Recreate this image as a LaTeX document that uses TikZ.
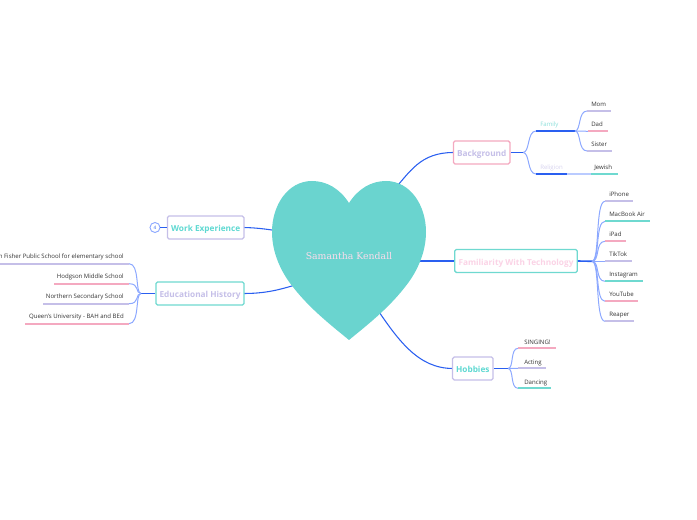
\documentclass[tikz,border=0pt]{standalone}
\usepackage{fontspec}
\setmainfont{Open Sans}
\newfontfamily\serifcentral{DejaVu Serif}
\definecolor{heartc}{HTML}{6AD4CF}
\definecolor{blued}{HTML}{2A5FF0}
\definecolor{bluel}{HTML}{8CA8FF}
\definecolor{pinkc}{HTML}{F4A9C0}
\definecolor{lavc}{HTML}{C5BFE8}
\definecolor{tealc}{HTML}{6FD9D0}
\definecolor{pinkt}{HTML}{FBD3E6}
\definecolor{tealt}{HTML}{5FD9D2}
\definecolor{famc}{HTML}{8ADFD9}
\definecolor{relc}{HTML}{D6D2EE}
\tikzset{
 x=0.75pt,y=-0.75pt,
 topic/.style={draw=#1,line width=0.95pt,rounded corners=1.2pt,fill=white,inner sep=0pt,text height=6.3pt,text depth=0pt,font=\fontsize{6.2}{8}\selectfont\bfseries},
 leaf/.style={inner sep=0pt,anchor=base west,font=\fontsize{4.55}{6}\selectfont,text=black!80},
 leafr/.style={inner sep=0pt,anchor=base east,font=\fontsize{4.55}{6}\selectfont,text=black!80},
 sub/.style={inner sep=0pt,anchor=base west,font=\fontsize{4.55}{6}\selectfont},
 main/.style={draw=blued,line width=0.8pt},
 fan/.style={draw=bluel,line width=0.75pt},
 stem/.style={draw=blued,line width=1.2pt},
 under/.style={line width=1.3pt,draw=#1}
}
\newcommand{\boxnode}[8]{\node[topic=#1,text=#2,minimum width=#3*0.75pt,minimum height=#4*0.75pt] (#5) at (#6,#7) {#8};}
\begin{document}
\begin{tikzpicture}
\useasboundingbox (0,0) rectangle (697,520);
\clip (0,0) rectangle (697,520);
% anchor coordinates hidden behind the heart
\coordinate (hBg) at (392,192);
\coordinate (hTe) at (410,261);
\coordinate (hHo) at (375,306);
\coordinate (hWo) at (280,231);
\coordinate (hEd) at (305,282);
% main connectors
\coordinate (bgL) at (453.5,152.5);
\coordinate (teL) at (455,261);
\coordinate (hoL) at (453,368.5);
\coordinate (woR) at (244,227.5);
\coordinate (edR) at (244,293.5);
\draw[main] (hBg) .. controls (410,172) and (420,152.5) .. (bgL);
\draw[main,line width=1pt] (hTe) -- (teL);
\draw[main] (hHo) .. controls (398,340) and (418,368.5) .. (hoL);
\draw[main] (woR) .. controls (262,228) and (270,230) .. (hWo);
\draw[main] (edR) .. controls (270,293.5) and (285,288) .. (hEd);
% Background
\boxnode{pinkc}{lavc}{56.5}{23}{bg}{481.7}{152.5}{Background}
\coordinate (bgF) at (523,152.5);
\coordinate (fa1) at (536,131);
\coordinate (fa2) at (563,131);
\coordinate (fa3) at (575,131);
\coordinate (re1) at (536,174);
\coordinate (re2) at (567,174);
\coordinate (re3) at (591,174);
\coordinate (re4) at (618,174);
\draw[fan] (bgF) .. controls (530,152.5) and (527,131) .. (fa1);
\draw[fan] (bgF) .. controls (530,152.5) and (527,174) .. (re1);
\draw[stem,line width=.9pt] (bg.east) -- (bgF);
\draw[stem] (fa1) -- (fa2);
\draw[stem,line width=.8pt] (fa2) -- (fa3);
\draw[stem] (re1) -- (re2);
\draw[draw=bluel!60,line width=1.3pt] (re2) -- (re3);
\draw[under=tealc] (re3) -- (re4);
\node[sub,text=famc] (family) at (540,126.5) {Family};
\node[sub,text=relc] (religion) at (540,169.3) {Religion};
\node[leaf] (jewish) at (594,169.3) {Jewish};
\coordinate (mo1) at (587,111);\coordinate (mo2) at (611,111);
\coordinate (da1) at (588,131.3);\coordinate (da2) at (608,131.3);
\coordinate (si1) at (587,151);\coordinate (si2) at (612,151);
\draw[fan] (fa3) .. controls (581,131) and (578,111) .. (mo1);
\draw[fan] (fa3) -- (da1);
\draw[fan] (fa3) .. controls (581,131) and (578,151) .. (si1);
\draw[under=lavc] (mo1) -- (mo2);
\draw[under=pinkc] (da1) -- (da2);
\draw[under=lavc] (si1) -- (si2);
\node[leaf] (mom) at (591,106.5) {Mom};
\node[leaf] (dad) at (591,126.5) {Dad};
\node[leaf] (sister) at (591,146.5) {Sister};
% Technology
\boxnode{tealc}{pinkt}{122.5}{23}{te}{516}{261}{Familiarity With Technology}
\coordinate (teF) at (592,261.3);
\draw[stem] (te.east) -- (teF);
\foreach \n/\yy/\xe/\cc/\tt in {a/201.3/632.7/lavc/iPhone,b/221.3/649.7/tealc/MacBook Air,c/241.3/626/pinkc/iPad,d/261.3/631.7/lavc/TikTok,e/281.3/643/tealc/Instagram,f/301.3/637.7/pinkc/YouTube,g/321.3/633.7/lavc/Reaper}{
 \coordinate (t\n1) at (605,\yy);
 \coordinate (t\n2) at (\xe,\yy);
 \draw[fan] (teF) .. controls (600,261.3) and (595,\yy) .. (t\n1);
 \draw[under=\cc] (t\n1) -- (t\n2);
 \node[leaf] (tl\n) at (609,\yy-4.6) {\tt};
}
% Hobbies
\boxnode{lavc}{tealt}{40.5}{23}{ho}{472.8}{368.5}{Hobbies}
\coordinate (hoF) at (508,368.5);
\draw[stem] (ho.east) -- (hoF);
\foreach \n/\yy/\xe/\cc/\tt in {a/348.3/555.7/pinkc/SINGING!,b/368.3/546/lavc/Acting,c/388.3/551/tealc/Dancing}{
 \coordinate (h\n1) at (518,\yy);
 \coordinate (h\n2) at (\xe,\yy);
 \draw[fan] (hoF) .. controls (514,368.5) and (510,\yy) .. (h\n1);
 \draw[under=\cc] (h\n1) -- (h\n2);
 \node[leaf] (hl\n) at (524,\yy-3.8) {\tt};
}
% Work experience
\boxnode{lavc}{tealt}{76.5}{23}{wo}{205.7}{227.5}{Work Experience}
\node[circle,draw=bluel,line width=0.7pt,fill=white,minimum size=7.5pt,inner sep=0pt,font=\fontsize{3.5}{4}\selectfont,text=blued] (count) at (155,227.5) {4};
\draw[stem,line width=.8pt] (count) -- (wo);
% Educational history
\boxnode{tealc}{lavc}{88}{23}{ed}{200}{293.5}{Educational History}
\coordinate (edF) at (141,293.5);
\draw[stem] (ed.west) -- (edF);
\foreach \n/\yy/\xs/\cc/\tt in {a/263.7/-5/lavc/John Fisher Public School for elementary school,b/283.7/54/pinkc/Hodgson Middle School,c/303.7/43/lavc/Northern Secondary School,d/323.7/25/pinkc/Queen's University - BAH and BEd}{
 \coordinate (e\n1) at (129,\yy);
 \coordinate (e\n2) at (\xs,\yy);
 \draw[fan] (edF) .. controls (135,293.5) and (140,\yy) .. (e\n1);
 \draw[under=\cc] (e\n1) -- (e\n2);
 \node[leafr] (el\n) at (124,\yy-5.6) {\tt};
}
% Central heart
\fill[heartc] (349,203) .. controls (340,189) and (327,181) .. (312,181)
 .. controls (288,181) and (272,205) .. (272,232)
 .. controls (272,256) and (284,276) .. (293,287)
 .. controls (310,309) and (332,326) .. (349,340)
 .. controls (366,326) and (388,309) .. (405,287)
 .. controls (414,276) and (426,256) .. (426,232)
 .. controls (426,205) and (410,181) .. (386,181)
 .. controls (371,181) and (358,189) .. (349,203) -- cycle;
\node[inner sep=0pt,text=pinkt!80!white,font=\serifcentral\fontsize{7}{8}\selectfont] (center) at (349,256.5) {Samantha Kendall};
\end{tikzpicture}
\end{document}
